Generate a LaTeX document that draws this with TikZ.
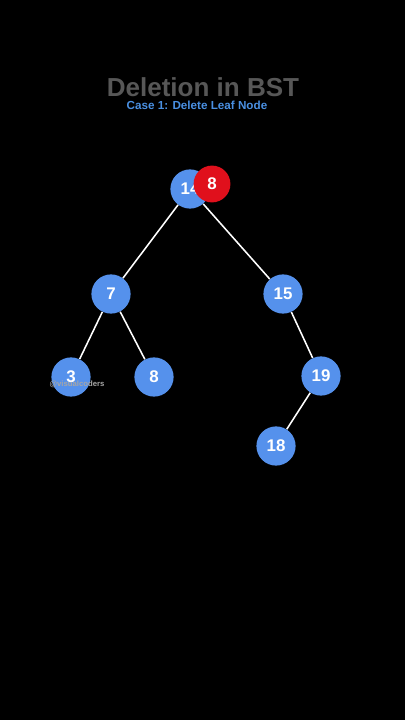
\documentclass[tikz,border=0pt]{standalone}
\usepackage{fontspec}
\setmainfont{Liberation Sans}
\usepackage{tikz}
\usetikzlibrary{positioning, backgrounds}

\definecolor{bstblue}{HTML}{5591EC}
\definecolor{bstred}{HTML}{E0101C}
\definecolor{titlegray}{HTML}{575757}
\definecolor{subblue}{HTML}{4A90E2}

\begin{document}
\begin{tikzpicture}[
      x=0.025cm, y=-0.025cm,
      bnode/.style={circle, fill=bstblue, minimum size=0.98cm, inner sep=0pt,
        text=white, font=\fontsize{12}{12}\selectfont\bfseries},
      delnode/.style={bnode, fill=bstred, minimum size=0.92cm},
      edge/.style={draw=white, line width=1.1pt}
    ]
    \useasboundingbox (0,0) rectangle (405,720);

    % ---- heading ----
    \node[text=titlegray, font=\fontsize{18.5}{18}\selectfont\bfseries] (title) at (203,87) {Deletion in BST};
    \node[text=subblue, font=\fontsize{8.3}{9}\selectfont\bfseries] (sub) at (197,105) {Case 1: Delete Leaf Node};

    % ---- tree ----
    \node[bnode] (n14) at (190,189) {14};
    \node[bnode] (n7)  at (111,294) {7};
    \node[bnode] (n15) at (283,294) {15};
    \node[bnode] (n3)  at (71,377)  {3};
    \node[bnode] (n8)  at (154,377) {8};
    \node[bnode] (n19) at (321,376) {19};
    \node[bnode] (n18) at (276,446) {18};

    % value being deleted
    \node[delnode] (del) at (212,184) {8};

    % watermark
    \node[text=gray!70, font=\fontsize{5.5}{6}\selectfont\bfseries] (mark) at (77,384) {@visualcoders};

    \begin{scope}[on background layer]
      \fill[black] (0,0) rectangle (405,720);
      \draw[edge] (n14) -- (n7);
      \draw[edge] (n14) -- (n15);
      \draw[edge] (n7)  -- (n3);
      \draw[edge] (n7)  -- (n8);
      \draw[edge] (n15) -- (n19);
      \draw[edge] (n19) -- (n18);
    \end{scope}
  \end{tikzpicture}
\end{document}
